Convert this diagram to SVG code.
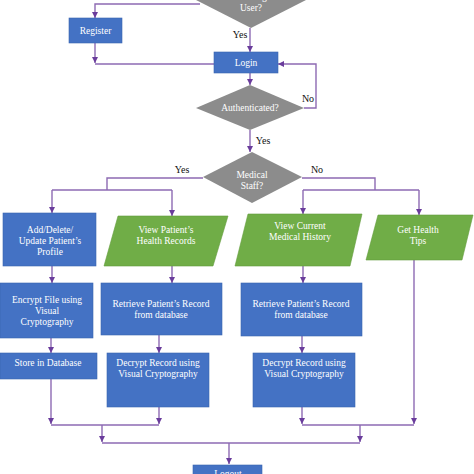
<svg xmlns="http://www.w3.org/2000/svg" width="474" height="474" viewBox="0 0 474 474">
<defs>
<marker id="arr" markerUnits="userSpaceOnUse" markerWidth="7" markerHeight="7" refX="6" refY="3" orient="auto">
<path d="M0,0 L6,3 L0,6 Z" fill="#6a3c9c"/>
</marker>
<style>
.ln{fill:none;stroke:#8d6ab3;stroke-width:1.4}
.bl{fill:#4472c4;stroke:#3a64b0;stroke-width:0.6}
.gr{fill:#70ad47;stroke:#639c3d;stroke-width:0.6}
.dm{fill:#8c8c8c}
.t{font-family:"Liberation Serif","Times New Roman",serif;font-size:9.5px;fill:#ffffff;text-anchor:middle}
.lb{font-family:"Liberation Serif","Times New Roman",serif;font-size:10px;fill:#111111;text-anchor:middle}
</style>
</defs>
<rect width="474" height="474" fill="#ffffff"/>
<g id="connectors">
<path class="ln" d="M200,4 H95 V18" marker-end="url(#arr)"/>
<path class="ln" d="M95,43 V63" marker-end="url(#arr)"/>
<path class="ln" d="M95,64 H214"/>
<path class="ln" d="M250,28 V52" marker-end="url(#arr)"/>
<path class="ln" d="M250,73 V85" marker-end="url(#arr)"/>
<path class="ln" d="M304,108 H316 V64 H278" marker-end="url(#arr)"/>
<path class="ln" d="M250,130 V152" marker-end="url(#arr)"/>
<path class="ln" d="M203,178 H107 V190"/>
<path class="ln" d="M52,190 H172"/>
<path class="ln" d="M52,190 V213" marker-end="url(#arr)"/>
<path class="ln" d="M172,190 V216" marker-end="url(#arr)"/>
<path class="ln" d="M302,178 H375 V190"/>
<path class="ln" d="M303,190 H419"/>
<path class="ln" d="M303,190 V214" marker-end="url(#arr)"/>
<path class="ln" d="M419,190 V215" marker-end="url(#arr)"/>
<path class="ln" d="M52,266 V283" marker-end="url(#arr)"/>
<path class="ln" d="M172,266 V283" marker-end="url(#arr)"/>
<path class="ln" d="M303,266 V283" marker-end="url(#arr)"/>
<path class="ln" d="M51,338 V353" marker-end="url(#arr)"/>
<path class="ln" d="M159,335 V353" marker-end="url(#arr)"/>
<path class="ln" d="M302,336 V353" marker-end="url(#arr)"/>
<path class="ln" d="M51,379 V424" marker-end="url(#arr)"/>
<path class="ln" d="M159,407 V424" marker-end="url(#arr)"/>
<path class="ln" d="M51,425 H159"/>
<path class="ln" d="M102,425 V442" marker-end="url(#arr)"/>
<path class="ln" d="M302,407 V424" marker-end="url(#arr)"/>
<path class="ln" d="M414,260 V424" marker-end="url(#arr)"/>
<path class="ln" d="M302,425 H414"/>
<path class="ln" d="M360,425 V442" marker-end="url(#arr)"/>
<path class="ln" d="M102,443 H360"/>
<path class="ln" d="M229,443 V464" marker-end="url(#arr)"/>
</g>
<g id="labels">
<text class="lb" x="240" y="38">Yes</text>
<text class="lb" x="308" y="102">No</text>
<text class="lb" x="263" y="144">Yes</text>
<text class="lb" x="182" y="173">Yes</text>
<text class="lb" x="317" y="173">No</text>
</g>
<g id="existing-user">
<polygon class="dm" points="251,-28 306,0 251,28 196,0"/>
<text class="t" x="251" y="0">Existing</text>
<text class="t" x="251" y="11">User?</text>
</g>
<g id="register">
<rect class="bl" x="69" y="18" width="53" height="25"/>
<text class="t" x="95.5" y="34">Register</text>
</g>
<g id="login">
<rect class="bl" x="214" y="52" width="64" height="21"/>
<text class="t" x="246" y="66">Login</text>
</g>
<g id="authenticated">
<polygon class="dm" points="250,85 304,108 250,130 196,108"/>
<text class="t" x="250" y="111">Authenticated?</text>
</g>
<g id="medical-staff">
<polygon class="dm" points="252,152 302,177 252,203 203,177"/>
<text class="t" x="252" y="178">Medical</text>
<text class="t" x="252" y="189">Staff?</text>
</g>
<g id="add-delete">
<rect class="bl" x="3" y="213" width="93" height="53"/>
<text class="t" x="50" y="233">Add/Delete/</text>
<text class="t" x="50" y="244">Update Patient’s</text>
<text class="t" x="50" y="255">Profile</text>
</g>
<g id="view-health-records">
<polygon class="gr" points="118,216 228,216 213,266 104,266"/>
<text class="t" x="166" y="233">View Patient’s</text>
<text class="t" x="166" y="244">Health Records</text>
</g>
<g id="view-medical-history">
<polygon class="gr" points="248,214 362,214 350,266 235,266"/>
<text class="t" x="300" y="229">View Current</text>
<text class="t" x="300" y="240">Medical History</text>
</g>
<g id="get-health-tips">
<polygon class="gr" points="378,215 473,215 462,260 366,260"/>
<text class="t" x="418" y="233">Get Health</text>
<text class="t" x="418" y="244">Tips</text>
</g>
<g id="encrypt">
<rect class="bl" x="0" y="283" width="93" height="55"/>
<text class="t" x="47" y="303">Encrypt File using</text>
<text class="t" x="47" y="314">Visual</text>
<text class="t" x="47" y="325">Cryptography</text>
</g>
<g id="retrieve-1">
<rect class="bl" x="101" y="283" width="121" height="52"/>
<text class="t" x="161" y="307">Retrieve Patient’s Record</text>
<text class="t" x="161" y="318">from database</text>
</g>
<g id="retrieve-2">
<rect class="bl" x="241" y="283" width="121" height="53"/>
<text class="t" x="301" y="307">Retrieve Patient’s Record</text>
<text class="t" x="301" y="318">from database</text>
</g>
<g id="store">
<rect class="bl" x="0" y="353" width="97" height="26"/>
<text class="t" x="48" y="366">Store in Database</text>
</g>
<g id="decrypt-1">
<rect class="bl" x="107" y="353" width="102" height="54"/>
<text class="t" x="158" y="366">Decrypt Record using</text>
<text class="t" x="158" y="377">Visual Cryptography</text>
</g>
<g id="decrypt-2">
<rect class="bl" x="253" y="353" width="102" height="54"/>
<text class="t" x="304" y="366">Decrypt Record using</text>
<text class="t" x="304" y="377">Visual Cryptography</text>
</g>
<g id="logout">
<rect class="bl" x="193" y="465" width="69" height="20"/>
<text class="t" x="228" y="477">Logout</text>
</g>
</svg>
